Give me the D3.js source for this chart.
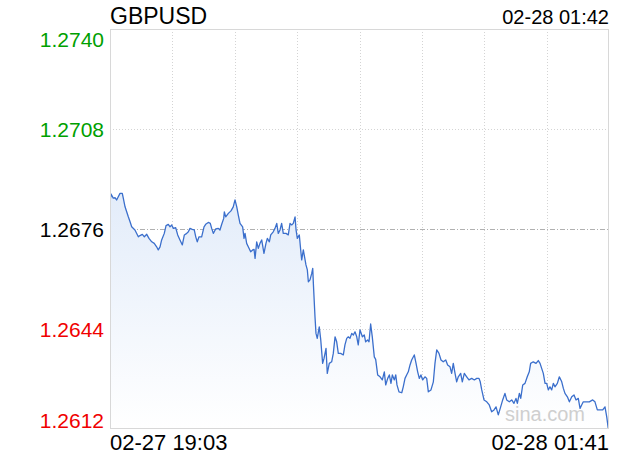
<!DOCTYPE html>
<html><head><meta charset="utf-8">
<script src="https://cdn.jsdelivr.net/npm/d3@7"></script>
<style>html,body{margin:0;padding:0;background:#fff;}svg{display:block;font-family:"Liberation Sans",Arial,sans-serif;}</style>
</head><body>
<svg id="c" width="620" height="460"></svg>
<script>
const title = "GBPUSD";
const updateLabel = "02-28 01:42";
const startLabel = "02-27 19:03";
const endLabel = "02-28 01:41";
const prevClose = 1.2676;
const yTicks = [1.2740, 1.2708, 1.2676, 1.2644, 1.2612];
const totalMinutes = 398;
// minutes since 02-27 19:03
const minutes = [0,0.8,2.6,4.0,5.3,6.6,8.0,9.8,10.6,12.0,13.3,14.6,16.0,17.3,19.9,22.6,23.9,25.8,27.4,29.3,31.1,33.3,35.3,37.2,38.5,39.9,41.2,43.3,44.7,46.5,47.9,49.2,50.5,52.4,54.0,55.8,57.7,59.3,61.2,62.5,63.8,65.6,67.2,68.4,69.6,71.0,73.1,75.0,76.3,78.4,80.0,81.1,82.4,84.3,86.4,87.7,89.1,90.7,91.2,92.3,94.4,96.5,98.3,99.7,
101.1,102.3,103.7,105.8,106.9,107.7,109.0,110.3,112.2,113.8,114.9,115.7,117.0,118.3,119.6,121.0,122.8,124.4,125.5,127.1,128.2,130.2,131.6,133.0,134.2,135.6,136.9,138.2,140.4,142.2,143.6,144.9,146.2,147.6,148.4,149.4,151.0,152.1,152.9,154.2,156.3,157.4,158.2,159.5,160.9,161.7,162.2,163.5,164.3,165.3,166.9,168.1,169.6,170.7,172.3,173.3,174.9,176.8,178.1,179.5,180.8,182.1,184.0,186.1,187.4,188.8,190.1,191.4,192.8,194.1,195.4,196.8,198.0,199.4,
201.3,202.8,203.9,205.5,206.6,207.9,209.2,210.8,211.9,213.5,215.4,217.2,218.8,219.9,221.5,222.8,224.1,225.2,226.8,227.9,228.9,230.5,232.7,233.9,235.3,236.6,237.9,239.3,240.6,242.7,244.1,245.4,246.7,248.0,249.4,251.2,252.6,253.9,256.0,257.9,259.2,260.6,262.4,264.0,265.8,267.8,269.3,271.2,272.5,273.8,275.2,276.5,277.8,279.7,281.0,282.6,284.5,286.3,288.5,290.6,292.5,294.3,295.3,
296.5,298.3,300.5,302.5,304.4,306.3,307.9,309.7,311.6,313.2,315.0,316.4,318.5,320.4,322.2,323.8,324.9,326.5,327.6,329.2,331.0,332.8,334.4,335.5,337.6,339.8,341.6,343.0,344.3,345.6,347.0,348.3,349.6,350.9,352.3,353.6,354.9,356.8,358.4,360.3,361.6,362.9,364.8,366.4,368.3,370.1,371.7,373.5,374.9,376.2,377.5,379.7,382.3,385.0,386.8,388.7,390.8,393.0,394.8,396.2,397.4,398];
const prices = [1.26847,1.26872,1.26859,1.26860,1.26853,1.26863,1.26874,1.26874,1.26859,1.26831,1.26815,1.26799,1.26783,1.26767,1.26757,1.26735,1.26739,1.26743,1.26735,1.26743,1.26730,1.26719,1.26714,1.26703,1.26693,1.26703,1.26725,1.26746,1.26771,1.26775,1.26767,1.26773,1.26762,1.26764,1.26741,1.26725,1.26709,1.26741,1.26746,1.26751,1.26762,1.26759,1.26757,1.26735,1.26719,1.26735,1.26735,1.26767,1.26775,1.26781,1.26778,1.26762,1.26746,1.26760,1.26762,1.26757,1.26775,1.26794,1.26815,1.26799,1.26810,1.26818,1.26831,1.26853,
1.26831,1.26805,1.26778,1.26767,1.26730,1.26746,1.26714,1.26703,1.26687,1.26693,1.26695,1.26666,1.26719,1.26698,1.26714,1.26725,1.26682,1.26714,1.26730,1.26719,1.26741,1.26751,1.26762,1.26778,1.26746,1.26757,1.26778,1.26746,1.26746,1.26741,1.26778,1.26773,1.26778,1.26799,1.26757,1.26730,1.26741,1.26693,1.26661,1.26693,1.26645,1.26629,1.26591,1.26597,1.26618,1.26634,1.26586,1.26479,1.26426,1.26410,1.26447,1.26405,1.26330,1.26346,1.26378,1.26298,1.26330,1.26335,1.26362,1.26415,1.26399,1.26362,1.26362,1.26357,1.26389,1.26410,1.26415,1.26410,1.26426,1.26421,1.26431,1.26415,1.26389,1.26437,
1.26415,1.26421,1.26399,1.26405,1.26399,1.26456,1.26415,1.26351,1.26343,1.26293,1.26287,1.26277,1.26303,1.26261,1.26282,1.26293,1.26266,1.26293,1.26277,1.26293,1.26261,1.26239,1.26236,1.26255,1.26282,1.26293,1.26303,1.26325,1.26341,1.26357,1.26330,1.26303,1.26282,1.26293,1.26277,1.26287,1.26282,1.26239,1.26245,1.26271,1.26330,1.26373,1.26362,1.26341,1.26335,1.26341,1.26325,1.26319,1.26298,1.26330,1.26298,1.26271,1.26287,1.26298,1.26271,1.26298,1.26287,1.26277,1.26282,1.26277,1.26282,1.26282,1.26271,
1.26245,1.26213,1.26207,1.26197,1.26175,1.26181,1.26191,1.26165,1.26191,1.26213,1.26234,1.26213,1.26207,1.26213,1.26202,1.26218,1.26202,1.26234,1.26218,1.26261,1.26266,1.26287,1.26303,1.26330,1.26335,1.26330,1.26339,1.26330,1.26314,1.26298,1.26266,1.26266,1.26245,1.26255,1.26245,1.26266,1.26255,1.26266,1.26287,1.26271,1.26250,1.26234,1.26223,1.26207,1.26223,1.26229,1.26213,1.26218,1.26186,1.26197,1.26207,1.26207,1.26207,1.26213,1.26207,1.26181,1.26181,1.26181,1.26191,1.26159,1.26122,1.26117];

const data = minutes.map((m,i)=>({m, v: prices[i]}));
const svg = d3.select("#c");
const L = 110, R = 609, T = 29, B = 429;
const x = d3.scaleLinear().domain([0,totalMinutes]).range([L,R]);
const y = d3.scaleLinear().domain([yTicks[yTicks.length-1], yTicks[0]]).range([B,T]);

const defs = svg.append("defs");
const g = defs.append("linearGradient").attr("id","ag").attr("gradientUnits","userSpaceOnUse")
  .attr("x1",0).attr("x2",0).attr("y1",T).attr("y2",B);
g.append("stop").attr("offset","0%").attr("stop-color","#cfdff6");
g.append("stop").attr("offset","100%").attr("stop-color","#ffffff");
defs.append("clipPath").attr("id","clip").append("rect").attr("x",L).attr("y",T).attr("width",R-L).attr("height",B-T);

// vertical grid
const vg = d3.range(1,8).map(k=>totalMinutes*k/8);
svg.append("g").selectAll("line").data(vg).join("line")
  .attr("x1",d=>Math.round(x(d))+0.5).attr("x2",d=>Math.round(x(d))+0.5)
  .attr("y1",T).attr("y2",B).attr("stroke","#d4d4d4").attr("stroke-dasharray","1,2");
// horizontal grid
svg.append("g").selectAll("line").data(yTicks.filter(t=>t!==yTicks[0]&&t!==yTicks[yTicks.length-1])).join("line")
  .attr("x1",L).attr("x2",R)
  .attr("y1",d=>Math.round(y(d))+0.5).attr("y2",d=>Math.round(y(d))+0.5)
  .attr("stroke",d=>d===prevClose?"#b0b0b0":"#d4d4d4")
  .attr("stroke-dasharray",d=>d===prevClose?"5,2,1,2":"1,2");

// area + line
const area = d3.area().x(d=>x(d.m)).y0(B).y1(d=>y(d.v));
const line = d3.line().x(d=>x(d.m)).y(d=>y(d.v));
svg.append("path").datum(data).attr("d",area).attr("fill","url(#ag)").attr("clip-path","url(#clip)");

// watermark
svg.append("text").attr("x",x(totalMinutes)-24).attr("y",421).attr("text-anchor","end")
  .attr("font-size",20).attr("fill","#cfcfcf").text("sina.com");

svg.append("path").datum(data).attr("d",line).attr("fill","none")
  .attr("stroke","#3b6fcc").attr("stroke-width",1.3).attr("stroke-linejoin","round").attr("clip-path","url(#clip)");

// frame
svg.append("rect").attr("x",L+0.5).attr("y",T+0.5).attr("width",R-L-1).attr("height",B-T-1)
  .attr("fill","none").attr("stroke","#d8d8d8");

// y labels
svg.append("g").selectAll("text").data(yTicks).join("text")
  .attr("x",L-6)
  .attr("y",(d,i)=> i===0 ? y(d)+18 : (i===yTicks.length-1 ? y(d)-1 : y(d)+7.5))
  .attr("text-anchor","end").attr("font-size",21)
  .attr("fill",d=>d>prevClose?"#00a000":(d<prevClose?"#f00000":"#000"))
  .text(d=>d.toFixed(4));

// title & time
svg.append("text").attr("x",L).attr("y",23.5).attr("font-size",23).attr("fill","#000").text(title);
svg.append("text").attr("x",R).attr("y",24).attr("text-anchor","end").attr("font-size",20).attr("fill","#000").text(updateLabel);
// bottom labels
svg.append("text").attr("x",L).attr("y",450).attr("font-size",22).attr("fill","#000").text(startLabel);
svg.append("text").attr("x",R).attr("y",450).attr("text-anchor","end").attr("font-size",22).attr("fill","#000").text(endLabel);
</script>
</body></html>
